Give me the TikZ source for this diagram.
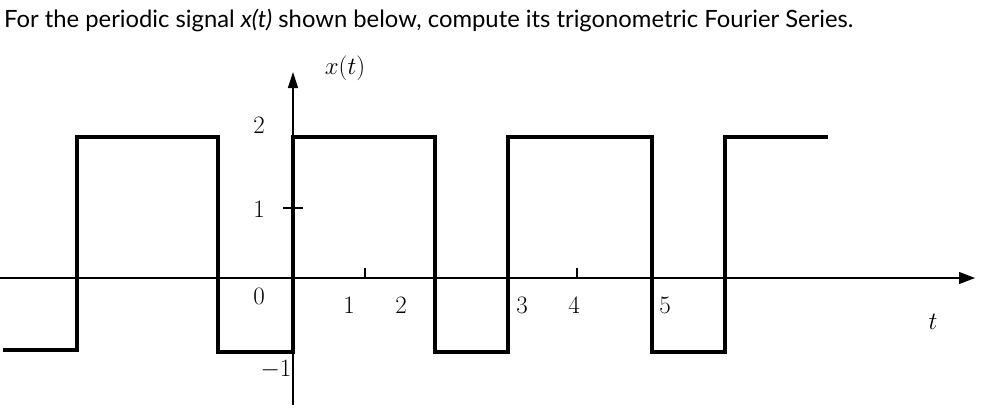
\documentclass[tikz,border=0pt]{standalone}
\usepackage{fontspec}
\newfontfamily\titlefont{Lato}
\usetikzlibrary{arrows.meta}
\begin{document}
\begin{tikzpicture}[x=1pt,y=-1pt,
  sig/.style={line width=4pt,line join=miter},
  ax/.style={line width=1.2pt},
  lab/.style={font=\fontsize{25}{28}\selectfont, inner sep=0pt}]
\useasboundingbox (0,0) rectangle (991,413);
\node[anchor=west,inner sep=0pt,font=\titlefont\fontsize{23.8}{26}\selectfont] (title) at (4,20) {For the periodic signal \textit{x(t)} shown below, compute its trigonometric Fourier Series.};
\coordinate (xl) at (0,278); \coordinate (xr) at (975,278);
\coordinate (yb) at (293,405); \coordinate (yt) at (293,72);
\draw[ax,-{Triangle[length=16pt,width=12pt]}] (xl) -- (xr);
\draw[ax,-{Triangle[length=16pt,width=10pt]}] (yb) -- (yt);
\draw[ax] (283,208) -- (303,208);
\draw[ax] (365,268) -- (365,278);
\draw[ax] (577,268) -- (577,278);
\draw[sig] (3,350) -- (77,350) -- (77,137) -- (218,137) -- (218,352) -- (293,352) -- (293,137) -- (435,137) -- (435,352) -- (508,352) -- (508,137) -- (652,137) -- (652,352) -- (725,352) -- (725,137) -- (828,137);
\node[lab] (l2) at (259,125) {2};
\node[lab] (l1) at (259,209) {1};
\node[lab] (l0) at (259,296) {0};
\node[lab] (lm1) at (276,370) {$-1$};
\node[lab] (t1) at (349,305) {1};
\node[lab] (t2) at (401,305) {2};
\node[lab] (t3) at (522,305) {3};
\node[lab] (t4) at (574,305) {4};
\node[lab] (t5) at (665,305) {5};
\node[lab,font=\fontsize{34}{36}\selectfont] (tt) at (933,322) {$t$};
\node[lab,font=\fontsize{46}{48}\selectfont] (xt) at (345,68) {$x(t)$};
\end{tikzpicture}
\end{document}
